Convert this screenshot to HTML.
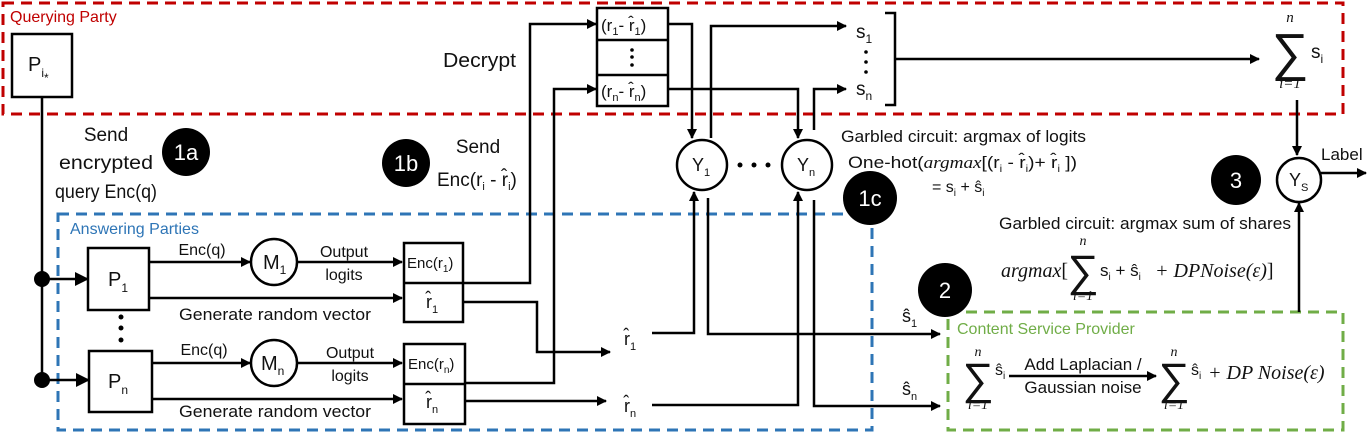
<!DOCTYPE html>
<html><head><meta charset="utf-8"><style>
html,body{margin:0;padding:0;background:#fff;}
svg{display:block;}
text{font-family:"Liberation Sans",sans-serif;fill:#111;}
.m{font-family:"Liberation Serif",serif;font-style:italic;}
</style></head><body>
<svg width="1368" height="434" viewBox="0 0 1368 434" xmlns="http://www.w3.org/2000/svg">
<defs>
<marker id="a" markerWidth="10" markerHeight="10" refX="9" refY="5" orient="auto" markerUnits="userSpaceOnUse">
<path d="M0,0 L10,5 L0,10 z" fill="#000"/></marker>
<marker id="b" markerWidth="14" markerHeight="14" refX="13" refY="7" orient="auto" markerUnits="userSpaceOnUse">
<path d="M0,0 L14,7 L0,14 z" fill="#000"/></marker>
</defs>
<rect x="3" y="3" width="1340" height="111" fill="none" stroke="#c00000" stroke-width="3" stroke-dasharray="11,7"/>
<rect x="58" y="214" width="814" height="216" fill="none" stroke="#2e75b6" stroke-width="3" stroke-dasharray="11,7"/>
<rect x="948" y="312" width="395" height="118" fill="none" stroke="#70ad47" stroke-width="3" stroke-dasharray="11,7"/>
<text x="10" y="22" font-size="16" style="fill:#c00000">Querying Party</text>
<text x="70" y="234" font-size="16" style="fill:#2e75b6">Answering Parties</text>
<text x="957" y="334" font-size="16" style="fill:#70ad47">Content Service Provider</text>

<g stroke="#000" stroke-width="2.5" fill="none">
<rect x="12" y="34" width="60" height="63" fill="#fff"/>
<line x1="42" y1="97" x2="42" y2="380"/>
<line x1="42" y1="279" x2="88" y2="279" marker-end="url(#b)"/>
<line x1="42" y1="380" x2="89" y2="380" marker-end="url(#b)"/>
<rect x="88" y="248" width="61" height="62" fill="#fff"/>
<rect x="89" y="351" width="63" height="61" fill="#fff"/>
<line x1="149" y1="262" x2="250" y2="262" marker-end="url(#a)"/>
<line x1="152" y1="363" x2="250" y2="363" marker-end="url(#a)"/>
<circle cx="274" cy="262" r="23"/>
<circle cx="274" cy="363" r="23"/>
<line x1="297" y1="262" x2="402" y2="262" marker-end="url(#a)"/>
<line x1="297" y1="363" x2="402" y2="363" marker-end="url(#a)"/>
<line x1="149" y1="298" x2="402" y2="298" marker-end="url(#a)"/>
<line x1="152" y1="399" x2="402" y2="399" marker-end="url(#a)"/>
<rect x="404" y="243" width="59" height="79"/><line x1="404" y1="283" x2="463" y2="283"/>
<rect x="404" y="344" width="61" height="80"/><line x1="404" y1="384" x2="465" y2="384"/>
<polyline points="463,283 530,283 530,24 596,24" marker-end="url(#a)"/>
<polyline points="465,383 554,383 554,89 596,89" marker-end="url(#a)"/>
<polyline points="463,302 537,302 537,352 610,352" marker-end="url(#a)"/>
<line x1="465" y1="401" x2="606" y2="401" marker-end="url(#a)"/>
<rect x="597" y="8" width="71" height="98" fill="#fff"/>
<line x1="597" y1="40" x2="668" y2="40"/><line x1="597" y1="75" x2="668" y2="75"/>
<polyline points="668,24 692,24 692,138" marker-end="url(#a)"/>
<polyline points="668,89 798,89 798,138" marker-end="url(#a)"/>
<polyline points="711,138 711,26 846,26" marker-end="url(#a)"/>
<polyline points="814,130 814,89 846,89" marker-end="url(#a)"/>
<circle cx="702" cy="165" r="25"/>
<circle cx="807" cy="165" r="25"/>
<polyline points="652,333 694,333 694,192" marker-end="url(#a)"/>
<polyline points="652,405 798,405 798,192" marker-end="url(#a)"/>
<polyline points="708,198 708,334 940,334" marker-end="url(#a)"/>
<polyline points="814,200 814,406 940,406" marker-end="url(#a)"/>
<polyline points="885,13 895,13 895,105 885,105"/>
<line x1="895" y1="59" x2="1259" y2="59" marker-end="url(#a)"/>
<line x1="1297" y1="100" x2="1297" y2="155" marker-end="url(#a)"/>
<circle cx="1299" cy="180" r="22"/>
<line x1="1321" y1="173" x2="1366" y2="173" marker-end="url(#a)"/>
<line x1="1299" y1="312" x2="1299" y2="203" marker-end="url(#a)"/>
<line x1="1009" y1="376" x2="1156" y2="376" marker-end="url(#a)"/>
</g>
<circle cx="42" cy="279" r="8"/><circle cx="42" cy="380" r="8"/>
<circle cx="121" cy="317" r="2.5"/><circle cx="121" cy="328" r="2.5"/><circle cx="121" cy="340" r="2.5"/>
<circle cx="740" cy="165" r="2.5"/><circle cx="754" cy="165" r="2.5"/><circle cx="768" cy="165" r="2.5"/>
<circle cx="632" cy="50" r="1.8"/><circle cx="632" cy="57" r="1.8"/><circle cx="632" cy="65" r="1.8"/>
<circle cx="866" cy="52" r="1.8"/><circle cx="866" cy="62" r="1.8"/><circle cx="866" cy="72" r="1.8"/>
<circle cx="186" cy="152" r="24"/><text x="186" y="160" font-size="22" text-anchor="middle" style="fill:#fff">1a</text>
<circle cx="406" cy="163" r="24"/><text x="406" y="171" font-size="22" text-anchor="middle" style="fill:#fff">1b</text>
<circle cx="870" cy="198" r="27"/><text x="870" y="206" font-size="22" text-anchor="middle" style="fill:#fff">1c</text>
<circle cx="945" cy="290" r="27"/><text x="945" y="298" font-size="22" text-anchor="middle" style="fill:#fff">2</text>
<circle cx="1236" cy="180" r="25"/><text x="1236" y="188" font-size="22" text-anchor="middle" style="fill:#fff">3</text>

<text x="28" y="71" font-size="20">P<tspan font-size="12" dy="6">i</tspan><tspan font-size="12" dy="5">*</tspan></text>
<g font-size="19" text-anchor="middle">
<text x="106" y="141">Send</text>
<text x="106" y="169" textLength="94" lengthAdjust="spacingAndGlyphs">encrypted</text>
<text x="106" y="198" textLength="102" lengthAdjust="spacingAndGlyphs">query Enc(q)</text>
<text x="478" y="153">Send</text>
</g>
<text x="437" y="186" font-size="19">Enc(r<tspan font-size="11" dy="4">i</tspan><tspan dy="-4"> - r̂</tspan><tspan font-size="11" dy="4">i</tspan><tspan dy="-4">)</tspan></text>
<text x="443" y="67" font-size="20" textLength="73" lengthAdjust="spacingAndGlyphs">Decrypt</text>
<text x="601" y="31" font-size="17">(r<tspan font-size="11" dy="4">1</tspan><tspan dy="-4">- r̂</tspan><tspan font-size="11" dy="4">1</tspan><tspan dy="-4">)</tspan></text>
<text x="601" y="97" font-size="17">(r<tspan font-size="11" dy="4">n</tspan><tspan dy="-4">- r̂</tspan><tspan font-size="11" dy="4">n</tspan><tspan dy="-4">)</tspan></text>
<text x="856" y="38" font-size="19">s<tspan font-size="12" dy="5">1</tspan></text>
<text x="856" y="95" font-size="19">s<tspan font-size="12" dy="5">n</tspan></text>
<text x="692" y="171" font-size="18">Y<tspan font-size="11" dy="5">1</tspan></text>
<text x="797" y="171" font-size="18">Y<tspan font-size="11" dy="5">n</tspan></text>
<text x="1289" y="186" font-size="18">Y<tspan font-size="11" dy="5">S</tspan></text>
<text x="1321" y="160" font-size="17">Label</text>
<text x="841" y="142" font-size="17" textLength="245" lengthAdjust="spacingAndGlyphs">Garbled circuit: argmax of logits</text>
<text x="848" y="168" font-size="17" textLength="229" lengthAdjust="spacingAndGlyphs">One-hot(<tspan class="m">argmax</tspan>[(r<tspan font-size="10" dy="4">i</tspan><tspan dy="-4"> - r̂</tspan><tspan font-size="10" dy="4">i</tspan><tspan dy="-4">)+ r̂</tspan><tspan font-size="10" dy="4">i</tspan><tspan dy="-4"> ])</tspan></text>
<text x="932" y="192" font-size="16">= s<tspan font-size="10" dy="4">i</tspan><tspan dy="-4"> + ŝ</tspan><tspan font-size="10" dy="4">i</tspan></text>
<text x="1290" y="22" font-size="15" class="m" text-anchor="middle">n</text>
<text x="1290" y="70" font-size="52" text-anchor="middle">∑</text>
<text x="1290" y="88" font-size="15" class="m" text-anchor="middle">i=1</text>
<text x="1311" y="58" font-size="19">s<tspan font-size="12" dy="5">i</tspan></text>
<text x="999" y="229" font-size="17" textLength="292" lengthAdjust="spacingAndGlyphs">Garbled circuit: argmax sum of shares</text>
<text x="1001" y="277" font-size="20" class="m">argmax<tspan style="font-style:normal">[</tspan></text>
<text x="1083" y="245" font-size="14" class="m" text-anchor="middle">n</text>
<text x="1083" y="286" font-size="44" text-anchor="middle">∑</text>
<text x="1083" y="300" font-size="14" class="m" text-anchor="middle">i=1</text>
<text x="1100" y="276" font-size="17">s<tspan font-size="10" dy="4">i</tspan><tspan dy="-4"> +  ŝ</tspan><tspan font-size="10" dy="4">i</tspan></text>
<text x="1155" y="277" font-size="20" class="m">+ DPNoise(ε)<tspan style="font-style:normal">]</tspan></text>
<text x="902" y="322" font-size="18">ŝ<tspan font-size="11" dy="5">1</tspan></text>
<text x="902" y="395" font-size="18">ŝ<tspan font-size="11" dy="5">n</tspan></text>
<text x="978" y="356" font-size="14" class="m" text-anchor="middle">n</text>
<text x="978" y="394" font-size="44" text-anchor="middle">∑</text>
<text x="978" y="409" font-size="14" class="m" text-anchor="middle">i=1</text>
<text x="995" y="375" font-size="16">ŝ<tspan font-size="10" dy="4">i</tspan></text>
<text x="1083" y="370" font-size="17" text-anchor="middle">Add Laplacian /</text>
<text x="1083" y="393" font-size="17" text-anchor="middle">Gaussian noise</text>
<text x="1174" y="356" font-size="14" class="m" text-anchor="middle">n</text>
<text x="1174" y="394" font-size="44" text-anchor="middle">∑</text>
<text x="1174" y="409" font-size="14" class="m" text-anchor="middle">i=1</text>
<text x="1191" y="375" font-size="16">ŝ<tspan font-size="10" dy="4">i</tspan></text>
<text x="1208" y="379" font-size="20" class="m">+ DP Noise(ε)</text>
<text x="108" y="286" font-size="20">P<tspan font-size="12" dy="6">1</tspan></text>
<text x="108" y="388" font-size="20">P<tspan font-size="12" dy="6">n</tspan></text>
<text x="263" y="269" font-size="20">M<tspan font-size="12" dy="5">1</tspan></text>
<text x="261" y="370" font-size="20">M<tspan font-size="12" dy="5">n</tspan></text>
<text x="202" y="255" font-size="16" text-anchor="middle">Enc(q)</text>
<text x="204" y="355" font-size="16" text-anchor="middle">Enc(q)</text>
<text x="344" y="257" font-size="16" text-anchor="middle">Output</text>
<text x="344" y="280" font-size="16" text-anchor="middle">logits</text>
<text x="350" y="358" font-size="16" text-anchor="middle">Output</text>
<text x="350" y="381" font-size="16" text-anchor="middle">logits</text>
<text x="179" y="320" font-size="17" textLength="192" lengthAdjust="spacingAndGlyphs">Generate random vector</text>
<text x="179" y="417" font-size="17" textLength="192" lengthAdjust="spacingAndGlyphs">Generate random vector</text>
<text x="407" y="268" font-size="15">Enc(r<tspan font-size="10" dy="4">1</tspan><tspan dy="-4">)</tspan></text>
<text x="408" y="369" font-size="15">Enc(r<tspan font-size="10" dy="4">n</tspan><tspan dy="-4">)</tspan></text>
<text x="426" y="308" font-size="18">r̂<tspan font-size="11" dy="5">1</tspan></text>
<text x="426" y="408" font-size="18">r̂<tspan font-size="11" dy="5">n</tspan></text>
<text x="624" y="345" font-size="18">r̂<tspan font-size="11" dy="5">1</tspan></text>
<text x="624" y="412" font-size="18">r̂<tspan font-size="11" dy="5">n</tspan></text>
</svg>
</body></html>
